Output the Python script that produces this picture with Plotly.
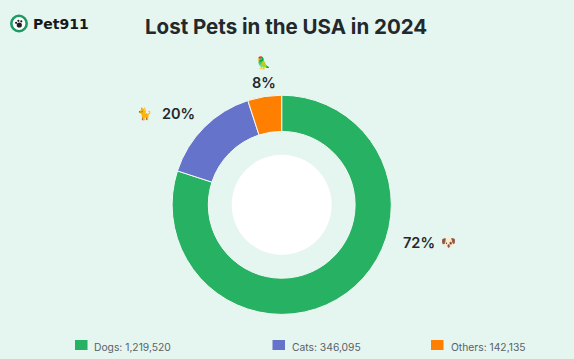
import plotly.graph_objects as go

W, H = 574, 359
categories = ["Dogs", "Cats", "Others"]
counts = ["1,219,520", "346,095", "142,135"]
drawn_shares = [80, 15, 5]
colors = ["#27B162", "#6673CB", "#FF7F00"]
title = "Lost Pets in the USA in 2024"
BG = "#E5F5EF"
INK = "#22282B"
FONT = "Inter, 'Noto Sans', sans-serif"

def px(x): return x / W
def py(y): return 1 - y / H

cx, cy, r = 281.7, 204.8, 109.6
fig = go.Figure(go.Pie(
    labels=categories, values=drawn_shares, sort=False, direction="clockwise", rotation=0,
    hole=73 / 109, textinfo="none", hoverinfo="label+percent",
    marker=dict(colors=colors, line=dict(color="#F1FAF6", width=1)),
    domain=dict(x=[px(cx - r), px(cx + r)], y=[py(cy + r), py(cy - r)]),
    showlegend=False,
))

def circle(x, y, rad, fill, line=None):
    return dict(type="circle", xref="paper", yref="paper", x0=px(x - rad), x1=px(x + rad),
                y0=py(y + rad), y1=py(y - rad), fillcolor=fill, layer="above",
                line=line or dict(width=0))

shapes = [
    circle(cx, cy, 50, "white"),
    circle(19, 23.5, 7.7, "white", dict(color="#1E9B63", width=2.6)),
    circle(19.3, 25, 2.6, "#1B1F20"),
    circle(16.1, 22.8, 1.1, "#1B1F20"),
    circle(18.4, 20.8, 1.1, "#1B1F20"),
    circle(21.3, 21.3, 1.1, "#1B1F20"),
]
def text(x, y, s, size, weight=400, color=INK, anchor="center", family=FONT):
    return dict(xref="paper", yref="paper", x=px(x), y=py(y), text=s, showarrow=False,
                xanchor=anchor, yanchor="middle", align="center",
                font=dict(family=family, size=size, color=color, weight=weight))

annotations = [
    text(286, 26, title, 20.5, 700),
    text(31, 23.5, "Pet911", 14, 700, "#15191A", "left", "'DejaVu Sans', sans-serif"),
    text(401, 242, "72%", 14.5, 600, anchor="left"),
    text(438.5, 242, "🐶", 12, anchor="left"),
    text(264, 82.5, "8%", 14.5, 600),
    text(263, 62, "🦜", 12),
    text(178, 113, "20%", 14.5, 600),
    text(144, 113, "🐈", 12),
]
legend_swatch_x = [75, 272.5, 431]
legend_text_x = [92, 290, 448.5]
for sx, tx, cat, cnt, col in zip(legend_swatch_x, legend_text_x, categories, counts, colors):
    shapes.append(dict(type="rect", xref="paper", yref="paper", x0=px(sx), x1=px(sx + 12.5),
                       y0=py(350), y1=py(340), fillcolor=col, line=dict(width=0)))
    annotations.append(text(tx, 347, f"{cat}: {cnt}", 10.3, 400, "#59626A", "left"))

fig.update_layout(width=W, height=H, margin=dict(l=0, r=0, t=0, b=0), paper_bgcolor=BG,
                  plot_bgcolor=BG, shapes=shapes, annotations=annotations, showlegend=False)
fig.write_html("out.html", config=dict(displayModeBar=False),
               post_script="document.body.style.margin='0';document.documentElement.style.overflow='hidden';")
